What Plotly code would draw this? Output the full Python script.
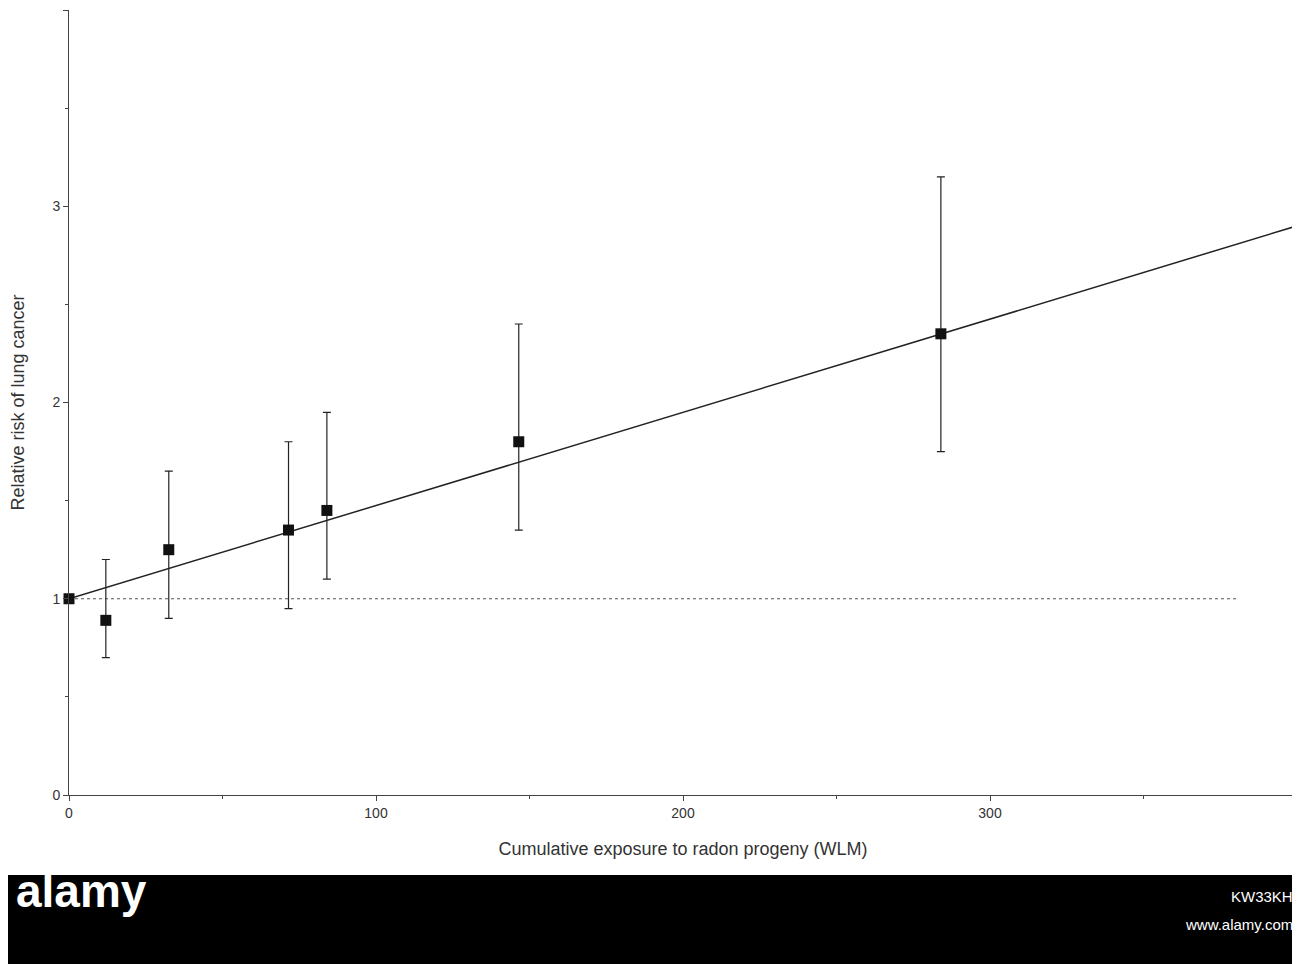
import plotly.graph_objects as go

# exposure (WLM) and relative risk with 95% CI
exposure = [0, 12, 32.5, 71.5, 84, 146.5, 284]
rr = [1.0, 0.89, 1.25, 1.35, 1.45, 1.8, 2.35]
ci_low = [1.0, 0.70, 0.90, 0.95, 1.10, 1.35, 1.75]
ci_high = [1.0, 1.20, 1.65, 1.80, 1.95, 2.40, 3.15]

fit_x = [0, 400]
fit_y = [1.0, 2.9]
ref_x = [0, 381]
ref_y = [1, 1]

fig = go.Figure()
fig.add_trace(go.Scatter(x=ref_x, y=ref_y, mode="lines",
                         line=dict(color="#555", width=1.2, dash="dot"), cliponaxis=False))
fig.add_trace(go.Scatter(x=fit_x, y=fit_y, mode="lines",
                         line=dict(color="#222", width=1.5), cliponaxis=False))
fig.add_trace(go.Scatter(
    x=exposure, y=rr, mode="markers", cliponaxis=False,
    marker=dict(symbol="square", size=11, color="#111"),
    error_y=dict(type="data", symmetric=False,
                 array=[h - v for h, v in zip(ci_high, rr)],
                 arrayminus=[v - l for v, l in zip(rr, ci_low)],
                 color="#222", thickness=1.2, width=4),
))

axis_common = dict(showgrid=False, zeroline=False, showline=True, linecolor="#444",
                   ticks="outside", ticklen=5, tickcolor="#444",
                   tickfont=dict(size=14, color="#333", family="Liberation Sans"))
fig.update_xaxes(range=[0, 400], tickvals=[0, 100, 200, 300],
                 minor=dict(tickvals=[50, 150, 250, 350], ticks="outside", ticklen=3, tickcolor="#444"),
                 title=dict(text="Cumulative exposure to radon progeny (WLM)",
                            font=dict(size=18, color="#333", family="Liberation Sans"), standoff=22),
                 **axis_common)
fig.update_yaxes(range=[0, 4], tickvals=[0, 1, 2, 3, 4],
                 minor=dict(tickvals=[0.5, 1.5, 2.5, 3.5], ticks="outside", ticklen=3, tickcolor="#444"),
                 title=dict(text="Relative risk of lung cancer",
                            font=dict(size=18, color="#333", family="Liberation Sans"), standoff=30),
                 **axis_common)

# watermark band
fig.add_shape(type="rect", xref="paper", yref="paper", x0=-0.06, x1=1.01,
              y0=-0.22, y1=-0.102, fillcolor="black", line_width=0, layer="above")
fig.add_annotation(xref="paper", yref="paper", x=-0.045, y=-0.158, xanchor="left",
                   text="<b>alamy</b>", showarrow=False,
                   font=dict(size=46, color="white", family="Liberation Sans"))
fig.add_annotation(xref="paper", yref="paper", x=0.998, y=-0.143, xanchor="right",
                   text="KW33KH", showarrow=False,
                   font=dict(size=15, color="white", family="Liberation Sans"))
fig.add_annotation(xref="paper", yref="paper", x=0.998, y=-0.178, xanchor="right",
                   text="www.alamy.com", showarrow=False,
                   font=dict(size=15, color="white", family="Liberation Sans"))

fig.update_layout(width=1292, height=956, showlegend=False,
                  plot_bgcolor="white", paper_bgcolor="white",
                  margin=dict(l=57, r=3, t=2, b=169))
fig.write_html("out.html")
